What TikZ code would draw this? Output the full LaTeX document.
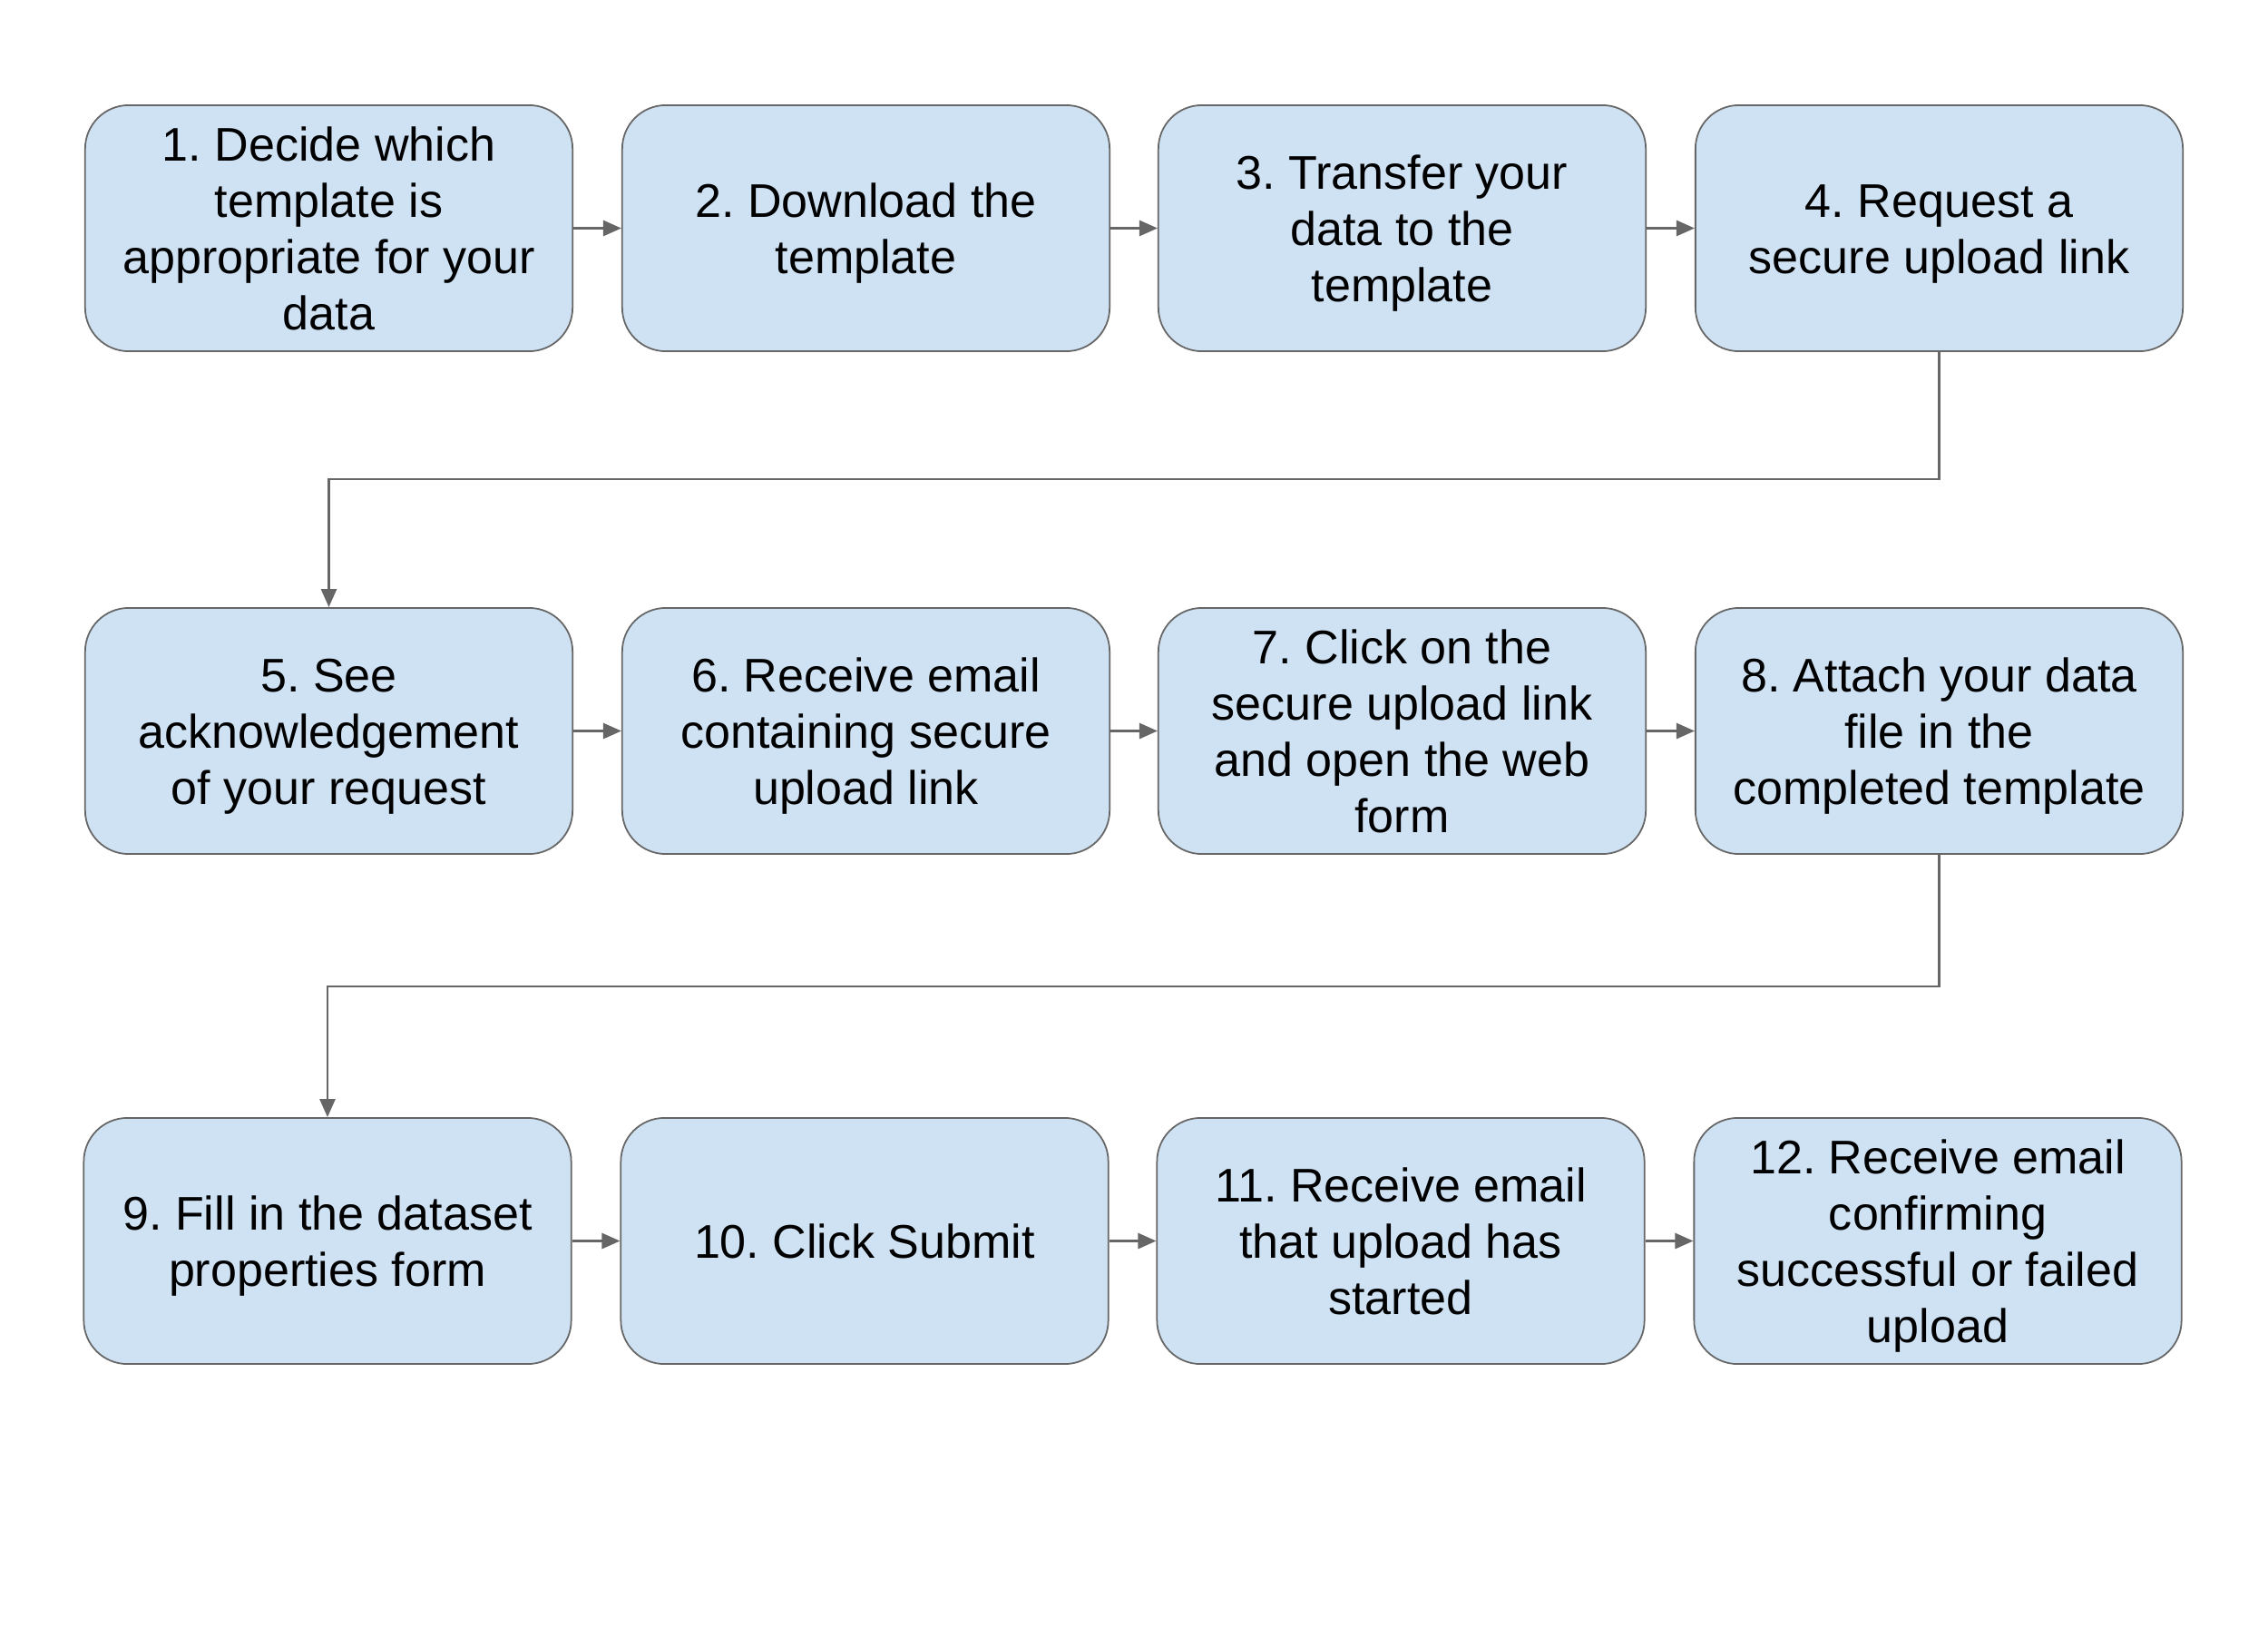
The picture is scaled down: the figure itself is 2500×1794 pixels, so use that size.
\documentclass[tikz,border=0pt]{standalone}
\usepackage{fontspec}
\setmainfont{Liberation Sans}
\usetikzlibrary{arrows.meta}
\frenchspacing
\definecolor{boxfill}{HTML}{CFE2F3}
\definecolor{boxline}{HTML}{666666}
\definecolor{conncol}{HTML}{666666}
\tikzset{
  stepbox/.style={draw=boxline, line width=0.5pt, fill=boxfill, rounded corners=0.48cm,
    minimum width=5.37cm, minimum height=2.71cm, inner sep=0pt},
  steptext/.style={align=center, inner sep=0pt, font=\fontsize{14.8}{17.6}\selectfont},
  conn/.style={draw=conncol, line width=0.8pt, -{Triangle[length=0.2cm,width=0.17cm]}}
}
\newcommand{\stepnode}[4]{%
  \node[stepbox] (#1) at (#2) {};
  \node[steptext] (#1t) at ([yshift=-1.9pt]#1.center) {\strut #3\strut};}
\begin{document}
\begin{tikzpicture}[x=0.01cm,y=-0.01cm]
\useasboundingbox (0,0) rectangle (2500,1794);
\stepnode{n1}{362.5,251.5}{1. Decide which\\template is\\appropriate for your\\data}{}
\stepnode{n2}{954.5,251.5}{2. Download the\\template}{}
\stepnode{n3}{1545.5,251.5}{3. Transfer your\\data to the\\template}{}
\stepnode{n4}{2137.5,251.5}{4. Request a\\secure upload link}{}
\stepnode{n5}{362.5,805.5}{5. See\\acknowledgement\\of your request}{}
\stepnode{n6}{954.5,805.5}{6. Receive email\\containing secure\\upload link}{}
\stepnode{n7}{1545.5,805.5}{7. Click on the\\secure upload link\\and open the web\\form}{}
\stepnode{n8}{2137.5,805.5}{8. Attach your data\\file in the\\completed template}{}
\stepnode{n9}{361,1367.5}{9. Fill in the dataset\\properties form}{}
\stepnode{n10}{953,1367.5}{10. Click Submit}{}
\stepnode{n11}{1544,1367.5}{11. Receive email\\that upload has\\started}{}
\stepnode{n12}{2136,1367.5}{12. Receive email\\confirming\\successful or failed\\upload}{}
\draw[conn] (n1) -- (n2);
\draw[conn] (n2) -- (n3);
\draw[conn] (n3) -- (n4);
\draw[conn] (n5) -- (n6);
\draw[conn] (n6) -- (n7);
\draw[conn] (n7) -- (n8);
\draw[conn] (n9) -- (n10);
\draw[conn] (n10) -- (n11);
\draw[conn] (n11) -- (n12);
\draw[conn] (n4.south) -- (n4.south |- 0,528) -| (n5.north);
\draw[conn] (n8.south) -- (n8.south |- 0,1087) -| (n9.north);
\end{tikzpicture}
\end{document}
